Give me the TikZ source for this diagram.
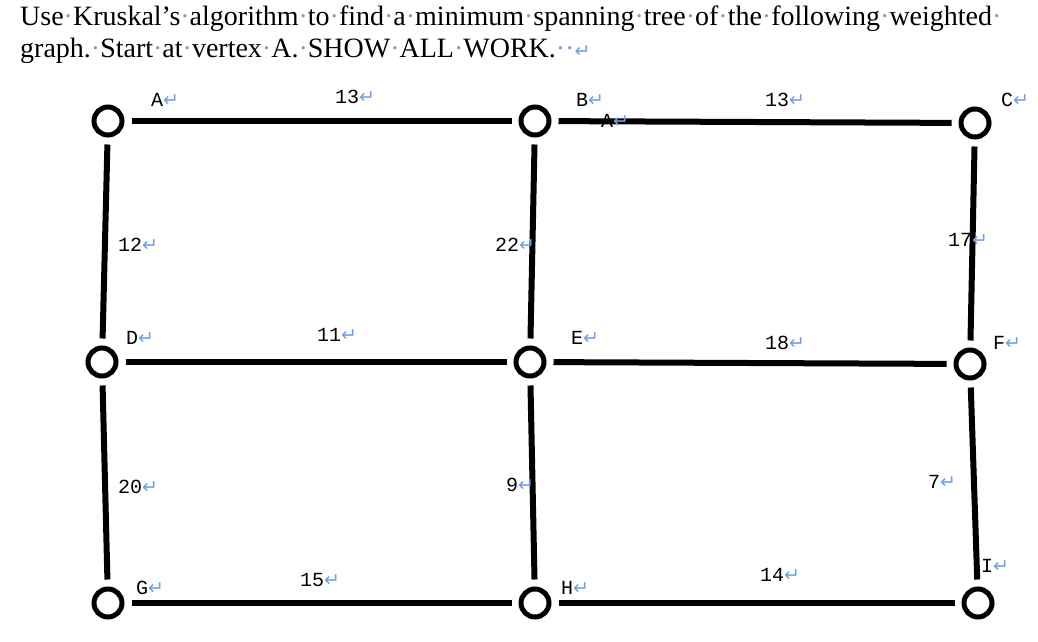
\documentclass[tikz,border=0pt]{standalone}
\usepackage{fontspec}
\setmainfont{Liberation Serif}
\newfontfamily\monof{Liberation Mono}
\newfontfamily\djv{DejaVu Sans}
\definecolor{pil}{RGB}{110,160,230}
\newcommand{\rt}{{\djv\color{pil}\fontsize{19}{19}\selectfont ↵}}
\newcommand{\sd}{{\color{pil}\textperiodcentered}}
\begin{document}
\begin{tikzpicture}[x=1pt,y=-1pt,
  vtx/.style={circle,draw,line width=5pt,minimum size=28pt,inner sep=0pt,fill=white},
  edge/.style={line width=6pt,shorten >=7pt,shorten <=7pt},
  lab/.style={font=\monof\fontsize{20}{20}\selectfont,inner sep=0pt}]
\useasboundingbox (0,0) rectangle (1038,642);
\node[anchor=base west,inner sep=0pt,font=\fontsize{28}{28}\selectfont] (t1) at (20,26) {Use\sd Kruskal's\sd algorithm\sd to\sd find\sd a\sd minimum\sd spanning\sd tree\sd of\sd the\sd following\sd weighted\sd};
\node[anchor=base west,inner sep=0pt,font=\fontsize{28}{28}\selectfont] (t2) at (20,58) {graph.\sd Start\sd at\sd vertex\sd A.\sd SHOW\sd ALL\sd WORK.\sd\sd\rt};
\node[vtx] (A) at (108,121) {};
\node[vtx] (B) at (535,121) {};
\node[vtx] (C) at (975,123) {};
\node[vtx] (D) at (102,362) {};
\node[vtx] (E) at (530,362) {};
\node[vtx] (F) at (970,364) {};
\node[vtx] (G) at (108,603) {};
\node[vtx] (H) at (535,603) {};
\node[vtx] (I) at (978,603) {};
\draw[edge] (A) -- (B); \draw[edge] (B) -- (C);
\draw[edge] (A) -- (D); \draw[edge] (B) -- (E); \draw[edge] (C) -- (F);
\draw[edge] (D) -- (E); \draw[edge] (E) -- (F);
\draw[edge] (D) -- (G); \draw[edge] (E) -- (H); \draw[edge] (F) -- (I);
\draw[edge] (G) -- (H); \draw[edge] (H) -- (I);
\node[lab] (lA) at (165,100) {A\rt};
\node[lab] (lB) at (590,100) {B\rt};
\node[lab] (lA2) at (615,121) {A\rt};
\node[lab] (lC) at (1015,100) {C\rt};
\node[lab] (lD) at (140,338) {D\rt};
\node[lab] (lE) at (585,338) {E\rt};
\node[lab] (lF) at (1007,343) {F\rt};
\node[lab] (lG) at (150,588) {G\rt};
\node[lab] (lH) at (575,588) {H\rt};
\node[lab] (lI) at (995,566) {I\rt};
\node[lab] (w1) at (355,97) {13\rt};
\node[lab] (w2) at (785,100) {13\rt};
\node[lab] (w3) at (138,245) {12\rt};
\node[lab] (w4) at (515,245) {22\rt};
\node[lab] (w5) at (968,240) {17\rt};
\node[lab] (w6) at (337,335) {11\rt};
\node[lab] (w7) at (785,343) {18\rt};
\node[lab] (w8) at (138,487) {20\rt};
\node[lab] (w9) at (520,485) {9\rt};
\node[lab] (w10) at (942,482) {7\rt};
\node[lab] (w11) at (320,580) {15\rt};
\node[lab] (w12) at (780,575) {14\rt};
\end{tikzpicture}
\end{document}
